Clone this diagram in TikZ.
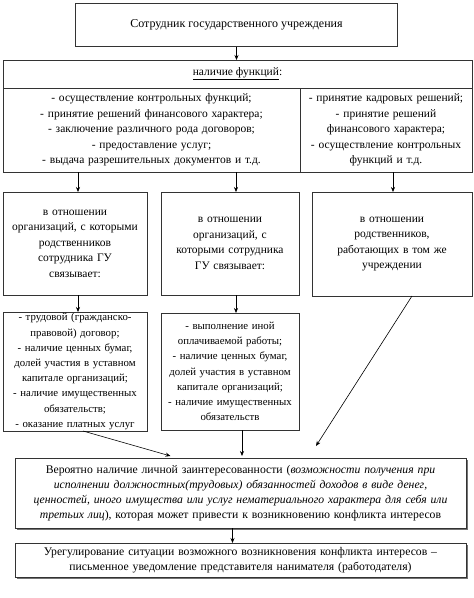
\documentclass[tikz,border=0pt]{standalone}
\usepackage{fontspec}
\setmainfont{Liberation Serif}
\usetikzlibrary{arrows.meta,shadows}
\begin{document}
\begin{tikzpicture}[x=1pt,y=-1pt,
  every node/.style={inner sep=0pt,outer sep=0pt},
  box/.style={draw=black!80,line width=0.7pt,align=center,font=\fontsize{11.5}{15.5}\selectfont},
  smallbox/.style={box,font=\fontsize{10.8}{15.2}\selectfont},
  shbox/.style={box,fill=white,drop shadow={shadow xshift=1.5pt,shadow yshift=-1.5pt,fill=black!55,opacity=1}},
  arr/.style={draw=black,line width=0.6pt,-{Stealth[length=5pt,width=4pt]}}]
\useasboundingbox (0,0) rectangle (474,598);
\node[box,minimum width=322,minimum height=43,font=\fontsize{12}{15}\selectfont] (top) at (236.5,25) {Сотрудник государственного учреждения};
\node[box,minimum width=469,minimum height=28] (fh) at (237.5,74) {\underline{наличие функций}:};
\node[box,minimum width=297,minimum height=84,text width=290] (fl) at (151.5,130) {- осуществление контрольных функций;\\- принятие решений финансового характера;\\- заключение различного рода договоров;\\- предоставление услуг;\\- выдача разрешительных документов и т.д.};
\node[box,minimum width=172,minimum height=84,text width=166] (fr) at (386,130) {- принятие кадровых решений;\\- принятие решений\\финансового характера;\\- осуществление контрольных\\функций и т.д.};
\node[box,minimum width=144,minimum height=103,text width=140] (b1) at (75,243.5) {в отношении\\организаций, с которыми\\родственников\\сотрудника ГУ\\связывает:};
\node[box,minimum width=138,minimum height=103,text width=134] (b2) at (230,243.5) {в отношении\\организаций, с\\которыми сотрудника\\ГУ связывает:};
\node[box,minimum width=160,minimum height=104,text width=156] (b3) at (392,244) {в отношении\\родственников,\\работающих в том же\\учреждении};
\node[smallbox,minimum width=144,minimum height=119,text width=140] (b4) at (75,371.5) {- трудовой (гражданско-\\правовой) договор;\\- наличие ценных бумаг,\\долей участия в уставном\\капитале организаций;\\- наличие имущественных\\обязательств;\\- оказание платных услуг};
\node[smallbox,minimum width=138,minimum height=117,text width=134] (b5) at (230,371.5) {- выполнение иной\\оплачиваемой работы;\\- наличие ценных бумаг,\\долей участия в уставном\\капитале организаций;\\- наличие имущественных\\обязательств};
\node[shbox,minimum width=451,minimum height=70,text width=445,font=\fontsize{11.7}{15}\selectfont] (cn) at (240.5,493) {Вероятно наличие личной заинтересованности (\textit{возможности получения при}\\\textit{исполнении должностных(трудовых) обязанностей доходов в виде денег,}\\\textit{ценностей, иного имущества или услуг нематериального характера для себя или}\\\textit{третьих лиц}), которая может привести к возникновению конфликта интересов};
\node[shbox,minimum width=451,minimum height=34,text width=445,font=\fontsize{11.7}{15}\selectfont] (fn) at (240.5,560) {Урегулирование ситуации возможного возникновения конфликта интересов –\\письменное уведомление представителя нанимателя (работодателя)};
\draw[arr] (top.south) -- (top.south |- fh.north);
\draw[arr] ([xshift=3pt]b1.north |- fl.south) -- ([xshift=3pt]b1.north);
\draw[arr] ([xshift=6pt]b2.north |- fl.south) -- ([xshift=6pt]b2.north);
\draw[arr] ([xshift=1pt]b3.north |- fr.south) -- ([xshift=1pt]b3.north);
\draw[arr] ([xshift=3pt]b1.south) -- ([xshift=3pt]b4.north);
\draw[arr] ([xshift=6pt]b2.south) -- ([xshift=6pt]b5.north);
\draw[arr] ([xshift=8pt]b4.south) -- ([xshift=-70pt,yshift=2pt]cn.north);
\draw[arr] ([xshift=12pt]b5.south) -- ([xshift=1.5pt,yshift=2pt]cn.north);
\draw[arr] ([xshift=20pt]b3.south) -- ([xshift=75.5pt,yshift=12pt]cn.north);
\draw[arr] ([xshift=-8pt]cn.south) -- ([xshift=-8pt]fn.north);
\end{tikzpicture}
\end{document}
